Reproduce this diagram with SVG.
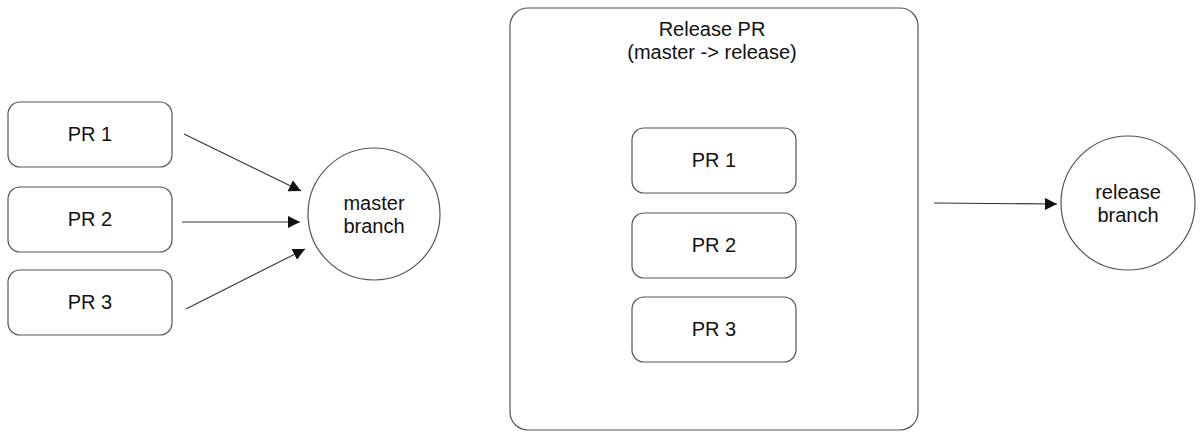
<svg xmlns="http://www.w3.org/2000/svg" width="1200" height="437" viewBox="0 0 1200 437">
<defs>
<style>
.box{fill:#fff;stroke:#555;stroke-width:1.2}
.t{font-family:"Liberation Sans",Arial,sans-serif;font-size:20px;fill:#111;text-anchor:middle}
.c{stroke:#333;stroke-width:1.1;fill:none;marker-end:url(#ah)}
</style>
<marker id="ah" viewBox="0 0 10 10" refX="10" refY="5" markerWidth="12" markerHeight="12" markerUnits="userSpaceOnUse" orient="auto">
<path d="M0,0 L10,5 L0,10 z" fill="#111"/>
</marker>
</defs>
<rect width="1200" height="437" fill="#fff"/>
<g id="container">
<rect class="box" x="510" y="8" width="408" height="422" rx="18"/>
<text class="t" x="712" y="36">Release PR</text>
<text class="t" x="712" y="59">(master -&gt; release)</text>
</g>
<g id="pr1"><rect class="box" x="8" y="102" width="164" height="65" rx="12"/><text class="t" x="90" y="141">PR 1</text></g>
<g id="pr2"><rect class="box" x="8" y="187" width="164" height="65" rx="12"/><text class="t" x="90" y="226">PR 2</text></g>
<g id="pr3"><rect class="box" x="8" y="270" width="164" height="65" rx="12"/><text class="t" x="90" y="309">PR 3</text></g>
<g id="master"><circle class="box" cx="374" cy="214" r="66"/><text class="t" x="374" y="210">master</text><text class="t" x="374" y="233">branch</text></g>
<g id="rpr1"><rect class="box" x="632" y="128" width="164" height="65" rx="12"/><text class="t" x="714" y="167">PR 1</text></g>
<g id="rpr2"><rect class="box" x="632" y="213" width="164" height="65" rx="12"/><text class="t" x="714" y="252">PR 2</text></g>
<g id="rpr3"><rect class="box" x="632" y="297" width="164" height="65" rx="12"/><text class="t" x="714" y="336">PR 3</text></g>
<g id="release"><circle class="box" cx="1128" cy="203" r="67"/><text class="t" x="1128" y="199">release</text><text class="t" x="1128" y="222">branch</text></g>
<g id="connectors">
<line class="c" x1="184" y1="134" x2="301" y2="191"/>
<line class="c" x1="182" y1="222" x2="300" y2="222"/>
<line class="c" x1="186" y1="309" x2="305" y2="249"/>
<line class="c" x1="934" y1="203" x2="1057" y2="204"/>
</g>
</svg>
